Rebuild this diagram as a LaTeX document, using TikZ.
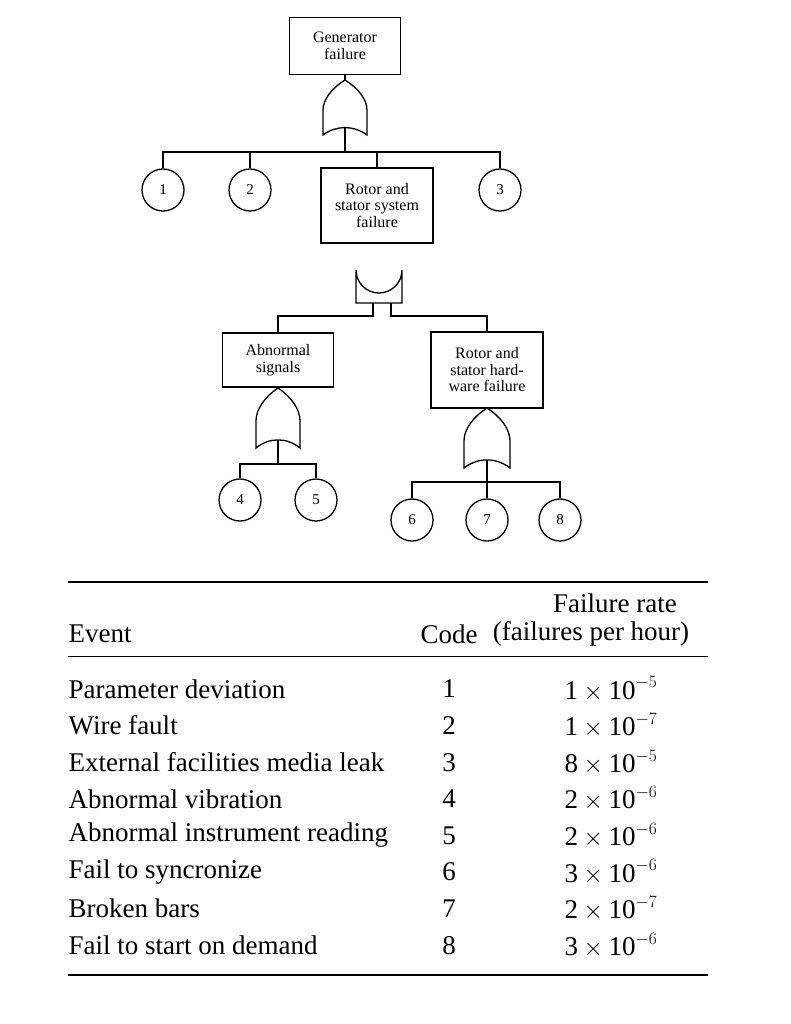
\documentclass[tikz,border=0pt]{standalone}
\usepackage{fontspec}
\setmainfont{Liberation Serif}
\begin{document}
\begin{tikzpicture}[x=1pt,y=-1pt,line width=1.3pt,
  box/.style={draw,align=center,inner sep=0pt,font=\fontsize{16}{16.5}\selectfont},
  ev/.style={draw,circle,minimum size=42pt,inner sep=0pt,font=\fontsize{15}{15}\selectfont},
  tab/.style={font=\fontsize{27}{29}\selectfont,inner sep=0pt}]
\useasboundingbox (0,0) rectangle (790,1024);
% OR gate: apex, half width, height
\newcommand{\orgate}[5]{% name, x, ytop, halfw, h
  \draw (#2,#3) .. controls (#2+0.6*#4,#3+0.15*#5) and (#2+#4,#3+0.35*#5) .. (#2+#4,#3+0.55*#5)
   -- (#2+#4,#3+#5) .. controls (#2+0.4*#4,#3+0.82*#5) and (#2-0.4*#4,#3+0.82*#5) .. (#2-#4,#3+#5)
   -- (#2-#4,#3+0.55*#5) .. controls (#2-#4,#3+0.35*#5) and (#2-0.6*#4,#3+0.15*#5) .. (#2,#3);
  \coordinate (#1in) at (#2,#3); \coordinate (#1out) at (#2,#3+0.87*#5);}
% tree
\node[box,minimum width=111pt,minimum height=57pt] (g) at (345,46) {Generator\\failure};
\orgate{o1}{345}{80}{22}{55}
\draw (g.south) -- (o1in);
\node[ev] (e1) at (163,190) {1};
\node[ev] (e2) at (250,190) {2};
\node[ev] (e3) at (500,190) {3};
\node[box,minimum width=112pt,minimum height=75pt] (rs) at (377,205.5) {Rotor and\\stator system\\failure};
\coordinate (b1) at (345,152);
\draw (o1out) -- (b1);
\draw (e1.north) |- (b1) -| (e3.north);
\draw (e2.north) -- (e2.north|-b1);
\draw (rs.north) -- (rs.north|-b1);
% AND gate
\draw (356,303) -- (356,270) arc[start angle=180,end angle=0,radius=23] -- (402,303) -- cycle;
\coordinate (a1) at (373,303); \coordinate (a2) at (391,303);
\node[box,minimum width=111pt,minimum height=54pt] (ab) at (278,360) {Abnormal\\signals};
\node[box,minimum width=112pt,minimum height=76pt] (rh) at (487,370) {Rotor and\\stator hard-\\ware failure};
\draw (a1) -- (373,316) -| (ab.north);
\draw (a2) -- (391,316) -| (rh.north);
% OR under abnormal
\orgate{o2}{278}{388}{22}{60}
\node[ev] (e4) at (240,500) {4};
\node[ev] (e5) at (316,500) {5};
\coordinate (b2) at (278,464);
\draw (o2out) -- (b2);
\draw (e4.north) |- (b2) -| (e5.north);
% OR under hardware
\orgate{o3}{487}{408}{23}{60}
\node[ev] (e6) at (412,520) {6};
\node[ev] (e7) at (487,520) {7};
\node[ev] (e8) at (560,520) {8};
\coordinate (b3) at (487,482);
\draw (o3out) -- (e7.north);
\draw (e6.north) |- (b3) -| (e8.north);
% table
\draw[line width=2pt] (68,582) -- (708,582);
\draw[line width=1pt] (68,656) -- (708,656);
\draw[line width=2pt] (68,975) -- (708,975);
\node[tab] at (615,603) {Failure rate};
\node[tab,anchor=west] at (68,634) {Event};
\node[tab] at (449,634) {Code};
\node[tab] at (591,634) {(failures per hour)};
\foreach \ev/\c/\m/\e [count=\i from 0] in {
 Parameter deviation/1/1/5, Wire fault/2/1/7, External facilities media leak/3/8/5,
 Abnormal vibration/4/2/6, Abnormal instrument reading/5/2/6, Fail to syncronize/6/3/6,
 Broken bars/7/2/7, Fail to start on demand/8/3/6}{
 \node[tab,anchor=west] at (68,689+36.6*\i) {\ev};
 \node[tab] at (449,689+36.6*\i) {\c};
 \node[tab] at (611,689+36.6*\i) {$\mathrm{\m}\times\mathrm{10}^{-\e}$};
}
\end{tikzpicture}
\end{document}
